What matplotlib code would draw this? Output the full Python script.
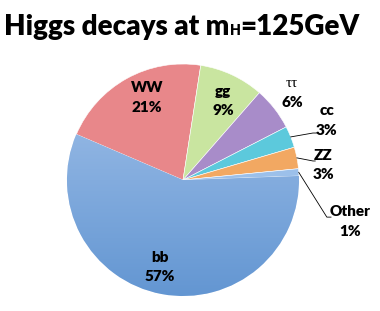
import numpy as np
import matplotlib
matplotlib.use('Agg')
import matplotlib.pyplot as plt
from matplotlib.colors import LinearSegmentedColormap

# 希格斯玻色子衰变分支比
channels = ['bb', 'WW', 'gg', 'ττ', 'cc', 'ZZ', 'Other']
shares = [57, 21, 9, 6, 3, 3, 1]
colors = ['#86ADDF', '#E8878A', '#C9E5A0', '#A88CC9', '#5CC9DC', '#F2A862', '#9CC0EA']
title_parts = ['Higgs decays at m', 'H', '=125GeV']

plt.rcParams['font.family'] = ['Lato', 'DejaVu Sans']

fig = plt.figure(figsize=(3.8, 3.11), dpi=100)
fig.patch.set_facecolor('white')

# 饼图区域: 圆心 (183,180) px, 半径 116 px
ax = fig.add_axes([67 / 380, 15 / 311, 232 / 380, 232 / 311])
wedges, _ = ax.pie(shares, colors=colors, startangle=2, counterclock=False,
                   radius=1, wedgeprops=dict(edgecolor='white', linewidth=0.4))

# bb 扇区渐变
grad = np.linspace(0, 1, 256).reshape(-1, 1)
cmap = LinearSegmentedColormap.from_list('bb', ['#6396D2', '#A3C2EA'])
im = ax.imshow(grad, extent=[-1, 1, -1, 1], origin='lower', cmap=cmap,
               aspect='auto', zorder=wedges[0].get_zorder() + 0.1)
im.set_clip_path(wedges[0])
ax.set_xlim(-1, 1)
ax.set_ylim(-1, 1)
ax.set_aspect('auto')

# 标签位置 (数据坐标)
label_pos = {
    'bb': (-0.20, -0.75),
    'WW': (-0.31, 0.71),
    'gg': (0.345, 0.68),
    'ττ': (0.94, 0.75),
    'cc': (1.24, 0.51),
    'ZZ': (1.21, 0.13),
    'Other': (1.44, -0.36),
}
# 引线终点
leader_end = {
    'cc': [(1.12, 0.405), (1.164, 0.405)],
    'ZZ': [(1.12, 0.164), (1.14, 0.164)],
    'Other': [(1.24, -0.32), (1.276, -0.32)],
}

for w, name, pct in zip(wedges, channels, shares):
    x, y = label_pos[name]
    if name == 'ττ':
        ax.text(x, y + 0.085, name, ha='center', va='center', fontsize=11,
                family=['Liberation Serif'], clip_on=False, zorder=5)
    else:
        ax.text(x, y + 0.085, name, ha='center', va='center', fontsize=11,
                fontweight='heavy', clip_on=False, zorder=5)
    ax.text(x, y - 0.085, f'{pct}%', ha='center', va='center', fontsize=11,
            fontweight='heavy', clip_on=False, zorder=5)
    if name in leader_end:
        mid = np.deg2rad((w.theta1 + w.theta2) / 2)
        pts = [(np.cos(mid), np.sin(mid))] + leader_end[name]
        xs, ys = zip(*pts)
        ax.plot(xs, ys, color='black', lw=0.6, clip_on=False, zorder=4)

# 标题: 分段绘制, 下标 H 用小字号
fig.canvas.draw()
renderer = fig.canvas.get_renderer()
sizes = [20, 10, 20]
pieces = []
for s, fs in zip(title_parts, sizes):
    t = fig.text(0, 0, s, fontsize=fs, fontweight='heavy', va='baseline')
    pieces.append(t)
widths = [t.get_window_extent(renderer).width for t in pieces]
total = sum(widths)
x0 = 182 - total / 2
base_y = 311 - 35
for t, wdt in zip(pieces, widths):
    t.set_position((x0 / 380, base_y / 311))
    x0 += wdt

fig.savefig('out.png', dpi=100)
